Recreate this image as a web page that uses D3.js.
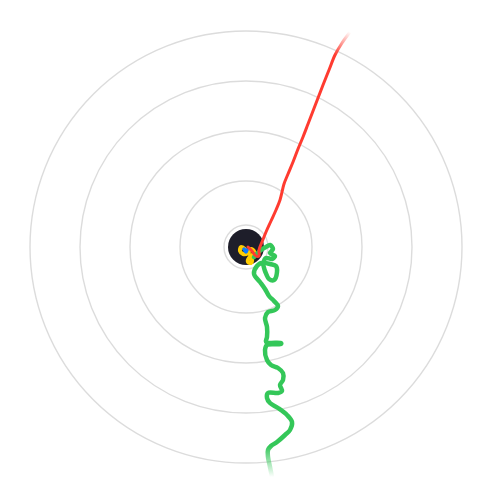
<!DOCTYPE html>
<html><head><meta charset="utf-8">
<script src="https://cdn.jsdelivr.net/npm/d3@7"></script>
<style>body{margin:0;background:#fff}svg{display:block}</style>
</head><body>
<script>
// distances in data units (1 unit = 10 px)
const ringRadii = [2.2, 6.6, 11.6, 16.6, 21.6];
const redTrack = [[0.2,0.0],[0.6,0.4],[1.0,0.9],[1.3,0.9],[1.3,0.3],[1.6,-0.5],[2.0,-1.5],[2.5,-2.6],[3.0,-3.7],[3.4,-4.7],[3.6,-5.5],[3.8,-6.3],[4.2,-7.3],[4.7,-8.5],[5.2,-9.8],[5.7,-11.0],[6.2,-12.3],[6.7,-13.6],[7.2,-14.9],[7.7,-16.2],[8.3,-17.7],[8.9,-19.2],[9.6,-20.4],[10.4,-21.5]];
const greenTrack = [[0.8,1.0],[1.5,0.3],[2.0,0.0],[2.4,-0.2],[2.7,0.2],[2.4,0.6],[2.9,0.9],[2.6,1.2],[2.0,1.1],[1.8,1.5],[2.4,1.7],[3.0,1.9],[3.1,2.5],[2.8,3.3],[2.3,3.2],[1.9,2.4],[1.6,1.6],[1.1,1.9],[0.8,2.7],[1.4,3.5],[1.9,4.2],[2.3,4.9],[2.8,5.4],[3.2,5.9],[2.9,6.3],[2.2,6.5],[1.9,7.1],[2.1,8.0],[2.1,9.0],[2.0,9.5],[3.5,9.6],[3.5,9.7],[2.1,9.8],[1.9,10.3],[2.1,11.3],[2.5,11.8],[3.2,12.1],[3.7,12.6],[3.7,13.3],[3.4,13.8],[3.6,14.4],[3.2,14.6],[2.2,14.6],[2.1,15.1],[2.4,15.6],[3.2,16.1],[4.1,16.8],[4.6,17.5],[4.4,18.3],[3.9,18.8],[3.1,19.5],[2.5,19.9],[2.2,20.3],[2.2,21.0],[2.4,22.0],[2.6,23.0]];
const yellowTrack = [[-0.1,0.2],[-0.5,0.0],[-0.6,0.4],[-0.3,0.7],[0.2,0.6],[0.5,0.2],[0.8,0.4],[0.6,0.9],[0.3,1.1],[0.2,1.5],[0.5,1.6],[0.6,1.2],[0.4,0.8]];
const blueTrack = [[-0.2,0.2],[0.0,0.5],[0.1,0.3]];
const coreRadius = 1.8;

const W = 500, H = 500, cx = 246, cy = 247;
const svg = d3.select("body").append("svg").attr("width", W).attr("height", H);
const x = d3.scaleLinear().domain([-25, 25]).range([cx - 250, cx + 250]);
const y = d3.scaleLinear().domain([-25, 25]).range([cy - 250, cy + 250]);
const r = d3.scaleLinear().domain([0, 25]).range([0, 250]);

svg.append("g").selectAll("circle").data(ringRadii).join("circle")
  .attr("cx", x(0)).attr("cy", y(0)).attr("r", d => r(d))
  .attr("fill", "none").attr("stroke", "#dcdcdc").attr("stroke-width", 1.4);

svg.append("circle").attr("cx", x(0)).attr("cy", y(0)).attr("r", r(coreRadius)).attr("fill", "#1e1e2a");

const defs = svg.append("defs");
const line = d3.line().x(d => x(d[0])).y(d => y(d[1])).curve(d3.curveCatmullRom.alpha(0.5));

const tracks = [
  {id:"yellow", data: yellowTrack, color:"#ffcc00", w:4, fade:false},
  {id:"blue", data: blueTrack, color:"#0a7aff", w:3.5, fade:false},
  {id:"green", data: greenTrack, color:"#34c759", w:4.5, fade:true, n:4},
  {id:"red", data: redTrack, color:"#ff3b30", w:3, fade:true, n:2}
];
tracks.forEach(t => {
  let stroke = t.color;
  if (t.fade) {
    const a = t.data[t.data.length - 1 - t.n], b = t.data[t.data.length - 1];
    const g = defs.append("linearGradient").attr("id", "g-" + t.id)
      .attr("gradientUnits", "userSpaceOnUse")
      .attr("x1", x(a[0])).attr("y1", y(a[1])).attr("x2", x(b[0])).attr("y2", y(b[1]));
    g.append("stop").attr("offset", 0).attr("stop-color", t.color).attr("stop-opacity", 1);
    g.append("stop").attr("offset", 1).attr("stop-color", t.color).attr("stop-opacity", 0);
    stroke = "url(#g-" + t.id + ")";
  }
  svg.append("path").datum(t.data).attr("d", line)
    .attr("fill", "none").attr("stroke", stroke).attr("stroke-width", t.w)
    .attr("stroke-linecap", "round").attr("stroke-linejoin", "round");
});
</script>
</body></html>
